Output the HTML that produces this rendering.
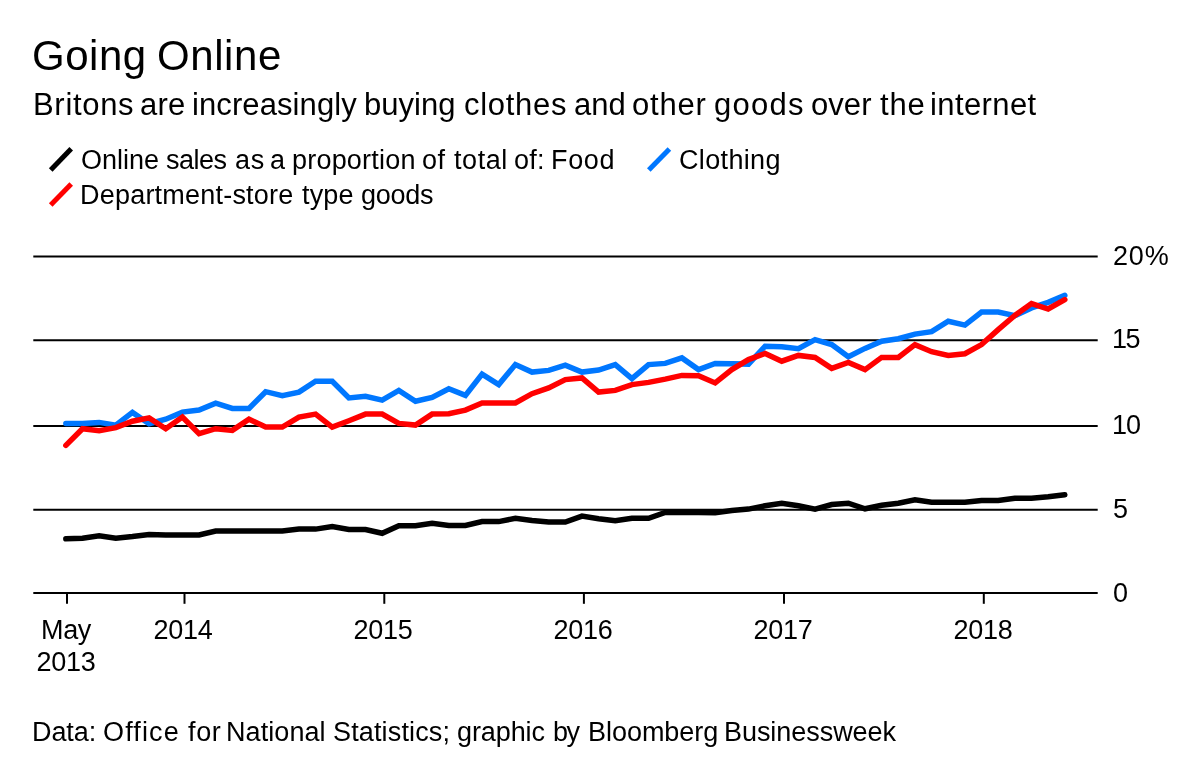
<!DOCTYPE html>
<html><head><meta charset="utf-8"><style>
html,body{margin:0;padding:0;background:#fff;width:1200px;height:762px;overflow:hidden}
body{font-family:"Liberation Sans",sans-serif;color:#000;position:relative}
.t{position:absolute;white-space:nowrap;line-height:1;will-change:transform}
</style></head><body>
<div class="t" style="left:32.38px;top:34.55px;font-size:42px;letter-spacing:0.513px">Going</div>
<div class="t" style="left:156.90px;top:34.55px;font-size:42px;letter-spacing:0.580px">Online</div>
<div class="t" style="left:32.50px;top:88.56px;font-size:31px;letter-spacing:0.688px">Britons</div>
<div class="t" style="left:139.93px;top:88.56px;font-size:31px;letter-spacing:0.200px">are</div>
<div class="t" style="left:192.07px;top:88.56px;font-size:31px;letter-spacing:0.091px">increasingly</div>
<div class="t" style="left:363.80px;top:88.56px;font-size:31px;letter-spacing:0.025px">buying</div>
<div class="t" style="left:463.62px;top:88.56px;font-size:31px;letter-spacing:0.708px">clothes</div>
<div class="t" style="left:573.62px;top:88.56px;font-size:31px;letter-spacing:-0.038px">and</div>
<div class="t" style="left:632.45px;top:88.56px;font-size:31px;letter-spacing:0.806px">other</div>
<div class="t" style="left:714.05px;top:88.56px;font-size:31px;letter-spacing:1.269px">goods</div>
<div class="t" style="left:810.85px;top:88.56px;font-size:31px;letter-spacing:0.067px">over</div>
<div class="t" style="left:879.50px;top:88.56px;font-size:31px;letter-spacing:0.875px">the</div>
<div class="t" style="left:930.38px;top:88.56px;font-size:31px;letter-spacing:0.393px">internet</div>
<div class="t" style="left:80.95px;top:146.84px;font-size:27px;letter-spacing:-0.025px">Online</div>
<div class="t" style="left:166.45px;top:146.84px;font-size:27px;letter-spacing:-0.537px">sales</div>
<div class="t" style="left:234.88px;top:146.84px;font-size:27px;letter-spacing:0.625px">as</div>
<div class="t" style="left:270.18px;top:146.84px;font-size:27px">a</div>
<div class="t" style="left:291.55px;top:146.84px;font-size:27px;letter-spacing:0.208px">proportion</div>
<div class="t" style="left:421.57px;top:146.84px;font-size:27px;letter-spacing:0.500px">of</div>
<div class="t" style="left:453.82px;top:146.84px;font-size:27px;letter-spacing:0.556px">total</div>
<div class="t" style="left:513.88px;top:146.84px;font-size:27px;letter-spacing:0.250px">of:</div>
<div class="t" style="left:550.75px;top:146.84px;font-size:27px;letter-spacing:0.667px">Food</div>
<div class="t" style="left:678.83px;top:146.84px;font-size:27px;letter-spacing:0.346px">Clothing</div>
<div class="t" style="left:80.45px;top:181.84px;font-size:27px;letter-spacing:0.212px">Department-store</div>
<div class="t" style="left:302.12px;top:181.84px;font-size:27px;letter-spacing:0.167px">type</div>
<div class="t" style="left:360.88px;top:181.84px;font-size:27px;letter-spacing:-0.250px">goods</div>
<div class="t" style="left:32.45px;top:718.84px;font-size:27px;letter-spacing:-0.094px">Data:</div>
<div class="t" style="left:102.95px;top:718.84px;font-size:27px;letter-spacing:1.135px">Office</div>
<div class="t" style="left:187.62px;top:718.84px;font-size:27px;letter-spacing:0.625px">for</div>
<div class="t" style="left:226.45px;top:718.84px;font-size:27px;letter-spacing:0.071px">National</div>
<div class="t" style="left:332.95px;top:718.84px;font-size:27px;letter-spacing:0.143px">Statistics;</div>
<div class="t" style="left:456.88px;top:718.84px;font-size:27px;letter-spacing:-0.092px">graphic</div>
<div class="t" style="left:552.95px;top:718.84px;font-size:27px;letter-spacing:-1.625px">by</div>
<div class="t" style="left:587.75px;top:718.84px;font-size:27px;letter-spacing:-0.041px">Bloomberg</div>
<div class="t" style="left:724.25px;top:718.84px;font-size:27px;letter-spacing:-0.052px">Businessweek</div>
<svg width="1200" height="762" style="position:absolute;left:0;top:0">
<g stroke-linecap="butt" stroke-width="5">
<line x1="50.7" y1="170.1" x2="71.2" y2="148.8" stroke="#000"/>
<line x1="648.8" y1="170.0" x2="669.4" y2="148.9" stroke="#0077ff"/>
<line x1="50.7" y1="204.9" x2="71.2" y2="183.9" stroke="#ff0000"/>
</g>
<g stroke="#000" stroke-width="2">
<line x1="33.3" y1="256.4" x2="1097.7" y2="256.4"/>
<line x1="33.3" y1="340.2" x2="1097.7" y2="340.2"/>
<line x1="33.3" y1="425.9" x2="1097.7" y2="425.9"/>
<line x1="33.3" y1="509.8" x2="1097.7" y2="509.8"/>
<line x1="33.3" y1="593.0" x2="1097.7" y2="593.0"/>
<line x1="67.0" y1="593" x2="67.0" y2="603.8"/>
<line x1="184.5" y1="593" x2="184.5" y2="603.8"/>
<line x1="384.3" y1="593" x2="384.3" y2="603.8"/>
<line x1="583.9" y1="593" x2="583.9" y2="603.8"/>
<line x1="784.0" y1="593" x2="784.0" y2="603.8"/>
<line x1="983.8" y1="593" x2="983.8" y2="603.8"/>
</g>
<polyline fill="none" stroke="#000" stroke-width="5.5" stroke-linejoin="miter" stroke-miterlimit="10" stroke-linecap="round" points="65.85,538.80 82.50,538.30 99.15,535.80 115.80,538.30 132.45,536.60 149.10,534.50 165.75,535.00 182.39,535.00 199.04,535.00 215.69,531.10 232.34,531.10 248.99,531.10 265.64,531.10 282.29,531.10 298.94,529.10 315.59,529.10 332.24,526.60 348.89,529.50 365.53,529.50 382.18,533.30 398.83,525.80 415.48,525.80 432.13,523.30 448.78,525.50 465.43,525.50 482.08,521.60 498.73,521.60 515.38,518.30 532.03,520.50 548.68,522.10 565.32,522.10 581.97,516.10 598.62,518.80 615.27,520.80 631.92,518.30 648.57,518.30 665.22,512.50 681.87,512.50 698.52,512.50 715.17,512.80 731.82,510.50 748.47,509.10 765.12,505.80 781.76,503.30 798.41,505.80 815.06,509.10 831.71,504.50 848.36,503.20 865.01,508.80 881.66,505.20 898.31,503.20 914.96,499.80 931.61,502.20 948.26,502.20 964.90,502.20 981.55,500.40 998.20,500.40 1014.85,498.20 1031.50,498.20 1048.15,496.80 1064.80,494.80"/>
<polyline fill="none" stroke="#0077ff" stroke-width="5.5" stroke-linejoin="miter" stroke-miterlimit="10" stroke-linecap="round" points="65.85,423.40 82.50,423.40 99.15,422.40 115.80,425.10 132.45,412.40 149.10,423.70 165.75,419.20 182.39,412.10 199.04,410.10 215.69,403.20 232.34,408.40 248.99,408.40 265.64,391.70 282.29,395.70 298.94,392.10 315.59,381.20 332.24,381.20 348.89,397.90 365.53,396.20 382.18,400.10 398.83,390.40 415.48,401.20 432.13,397.40 448.78,388.70 465.43,395.40 482.08,374.10 498.73,384.60 515.38,364.60 532.03,372.10 548.68,370.40 565.32,365.10 581.97,372.10 598.62,370.10 615.27,364.60 631.92,378.70 648.57,364.60 665.22,363.40 681.87,357.90 698.52,369.60 715.17,363.40 731.82,363.70 748.47,364.10 765.12,346.20 781.76,346.70 798.41,348.70 815.06,339.60 831.71,344.60 848.36,356.70 865.01,348.40 881.66,341.20 898.31,338.70 914.96,334.10 931.61,331.70 948.26,321.20 964.90,325.10 981.55,312.10 998.20,312.10 1014.85,315.70 1031.50,307.90 1048.15,302.40 1064.80,295.40"/>
<polyline fill="none" stroke="#ff0000" stroke-width="5.5" stroke-linejoin="miter" stroke-miterlimit="10" stroke-linecap="round" points="65.85,445.40 82.50,428.70 99.15,430.70 115.80,427.60 132.45,421.20 149.10,417.90 165.75,428.70 182.39,417.10 199.04,433.70 215.69,428.70 232.34,430.40 248.99,419.20 265.64,427.10 282.29,427.10 298.94,417.10 315.59,414.10 332.24,427.10 348.89,420.70 365.53,414.10 382.18,414.10 398.83,423.40 415.48,425.10 432.13,414.10 448.78,413.70 465.43,410.10 482.08,402.90 498.73,402.90 515.38,402.90 532.03,393.70 548.68,387.90 565.32,379.60 581.97,377.90 598.62,392.10 615.27,390.40 631.92,384.60 648.57,382.40 665.22,379.10 681.87,375.40 698.52,375.70 715.17,382.90 731.82,369.60 748.47,359.60 765.12,353.40 781.76,361.20 798.41,355.40 815.06,357.40 831.71,368.40 848.36,362.40 865.01,369.60 881.66,357.40 898.31,357.40 914.96,344.60 931.61,351.70 948.26,355.40 964.90,353.70 981.55,344.60 998.20,329.60 1014.85,315.40 1031.50,303.60 1048.15,309.00 1064.80,299.60"/>
</svg>
<div class="t ylab" style="left:1113px;top:243.34px;font-size:27px;letter-spacing:0.85px">20%</div>
<div class="t ylab" style="left:1112px;top:326.44px;font-size:27px;letter-spacing:-1.5px">15</div>
<div class="t ylab" style="left:1112px;top:412.24px;font-size:27px;letter-spacing:-1.0px">10</div>
<div class="t ylab" style="left:1112.8px;top:496.44px;font-size:27px;letter-spacing:0px">5</div>
<div class="t ylab" style="left:1113px;top:580.44px;font-size:27px;letter-spacing:0px">0</div>
<div class="t xlab" style="left:26.0px;width:80px;text-align:center;top:617.34px;font-size:27px;letter-spacing:-0.3px">May</div>
<div class="t xlab" style="left:25.5px;width:80px;text-align:center;top:648.94px;font-size:27px;letter-spacing:-0.3px">2013</div>
<div class="t xlab" style="left:143.2px;width:80px;text-align:center;top:617.34px;font-size:27px;letter-spacing:-0.3px">2014</div>
<div class="t xlab" style="left:343.1px;width:80px;text-align:center;top:617.34px;font-size:27px;letter-spacing:-0.3px">2015</div>
<div class="t xlab" style="left:542.8px;width:80px;text-align:center;top:617.34px;font-size:27px;letter-spacing:-0.3px">2016</div>
<div class="t xlab" style="left:743.0px;width:80px;text-align:center;top:617.34px;font-size:27px;letter-spacing:-0.3px">2017</div>
<div class="t xlab" style="left:942.9px;width:80px;text-align:center;top:617.34px;font-size:27px;letter-spacing:-0.3px">2018</div>
</body></html>
